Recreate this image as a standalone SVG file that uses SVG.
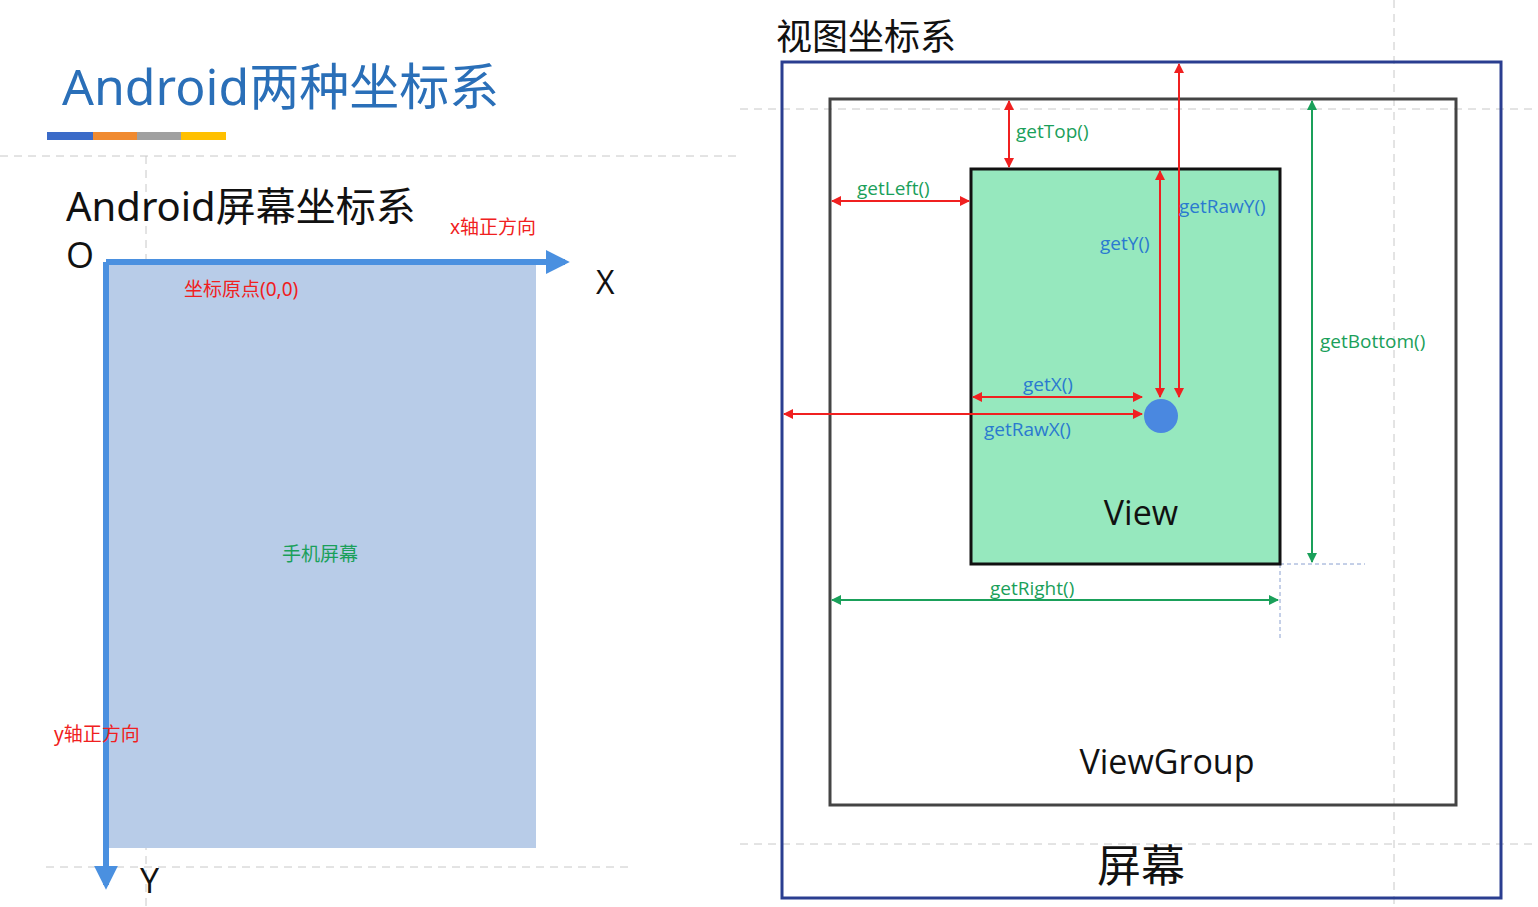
<svg xmlns="http://www.w3.org/2000/svg" width="1538" height="907" viewBox="0 0 1538 907">
<defs>
<style>
text{font-family:"Open Sans","Noto Sans","Noto Sans CJK SC",sans-serif}
.cj{font-family:"Noto Sans","Noto Sans CJK SC",sans-serif}
.g{fill:#1aa05a;font-size:19px}
.b{fill:#2a7ad0;font-size:19px}
.r{fill:#f02020;font-size:19px}
.red{stroke:#f02020;stroke-width:2;fill:none}
.dash{stroke:#c8c8c8;stroke-width:1;stroke-dasharray:8 6;fill:none}
</style>
<marker id="ar" viewBox="0 0 10 10" refX="9" refY="5" markerWidth="5" markerHeight="5" orient="auto-start-reverse"><path d="M0,0L10,5L0,10z" fill="#f02020"/></marker>
<marker id="ag" viewBox="0 0 10 10" refX="9" refY="5" markerWidth="5" markerHeight="5" orient="auto-start-reverse"><path d="M0,0L10,5L0,10z" fill="#1aa05a"/></marker>
<marker id="ab" viewBox="0 0 10 10" refX="8" refY="5" markerWidth="4" markerHeight="4" orient="auto"><path d="M0,0L10,5L0,10z" fill="#4a90e0"/></marker>
</defs>
<rect width="1538" height="907" fill="#fff"/>
<g id="guides">
<path class="dash" d="M0,156H740 M146,156V907 M46,867H630 M740,109H1538 M740,844H1538 M1394,0V907"/>
<path d="M1280,564H1365 M1280,564V640" stroke="#8aa0d0" stroke-dasharray="4 3" fill="none"/>
</g>
<g id="title">
<text x="62" y="105" font-size="50" fill="#2a6fb8" class="cj">Android两种坐标系</text>
<rect x="47" y="132" width="46" height="8" fill="#3b6bc8"/><rect x="93" y="132" width="44" height="8" fill="#f08a30"/><rect x="137" y="132" width="44" height="8" fill="#a0a0a0"/><rect x="181" y="132" width="45" height="8" fill="#ffc000"/>
</g>
<g id="phone">
<rect x="106" y="262" width="430" height="586" fill="#b8cce8"/>
<text x="320" y="561" text-anchor="middle" class="g cj" font-size="22">手机屏幕</text>
<text x="184" y="296" class="r cj" font-size="18">坐标原点(0,0)</text>
</g>
<g id="axes">
<path d="M106,262H565" stroke="#4a90e0" stroke-width="6" marker-end="url(#ab)"/>
<path d="M106,262V885" stroke="#4a90e0" stroke-width="6" marker-end="url(#ab)"/>
</g>
<g id="screenLabels">
<text x="66" y="221" font-size="40" fill="#111" class="cj">Android屏幕坐标系</text>
<text x="66" y="268" font-size="36" fill="#111">O</text>
<text x="596" y="294" font-size="32" fill="#111">X</text>
<text x="140" y="893" font-size="34" fill="#111">Y</text>
<text x="450" y="234" class="r cj" font-size="18">x轴正方向</text>
<text x="54" y="741" class="r cj" font-size="18">y轴正方向</text>
</g>
<g id="screen">
<text x="776" y="50" font-size="36" fill="#111" class="cj">视图坐标系</text>
<rect x="782" y="62" width="719" height="836" fill="none" stroke="#2a3e90" stroke-width="3"/>
<text x="1141" y="882" text-anchor="middle" font-size="44" fill="#111" class="cj">屏幕</text>
</g>
<g id="viewgroup">
<rect x="830" y="99" width="626" height="706" fill="none" stroke="#444" stroke-width="3"/>
<text x="1167" y="774" text-anchor="middle" font-size="34" fill="#111">ViewGroup</text>
</g>
<g id="view">
<rect x="971" y="169" width="309" height="395" fill="#96e8be" stroke="#111" stroke-width="3"/>
<text x="1141" y="525" text-anchor="middle" font-size="34" fill="#111">View</text>
<ellipse cx="1161" cy="416" rx="17" ry="17" fill="#4a88e0"/>
</g>
<g id="connectors">
<path class="red" d="M1009,101V167" marker-start="url(#ar)" marker-end="url(#ar)"/>
<path class="red" d="M832,201H969" marker-start="url(#ar)" marker-end="url(#ar)"/>
<path class="red" d="M1179,64V397" marker-start="url(#ar)" marker-end="url(#ar)"/>
<path class="red" d="M1160,171V397" marker-start="url(#ar)" marker-end="url(#ar)"/>
<path class="red" d="M973,397H1142" marker-start="url(#ar)" marker-end="url(#ar)"/>
<path class="red" d="M784,414H1142" marker-start="url(#ar)" marker-end="url(#ar)"/>
<path d="M1312,101V562" stroke="#1aa05a" stroke-width="2" marker-start="url(#ag)" marker-end="url(#ag)"/>
<path d="M832,600H1278" stroke="#1aa05a" stroke-width="2" marker-start="url(#ag)" marker-end="url(#ag)"/>
</g>
<g id="labels">
<text x="1016" y="138" class="g">getTop()</text>
<text x="857" y="195" class="g">getLeft()</text>
<text x="1179" y="213" class="b">getRawY()</text>
<text x="1100" y="250" class="b">getY()</text>
<text x="1320" y="348" class="g">getBottom()</text>
<text x="1023" y="391" class="b">getX()</text>
<text x="984" y="436" class="b">getRawX()</text>
<text x="990" y="595" class="g">getRight()</text>
</g>
</svg>
